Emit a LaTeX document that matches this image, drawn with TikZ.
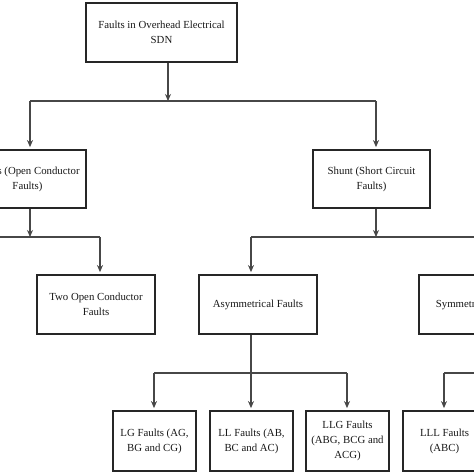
\documentclass[tikz,border=0pt]{standalone}
\usepackage{fontspec}
\setmainfont{Liberation Serif}
\usetikzlibrary{arrows.meta,calc}
\begin{document}
\begin{tikzpicture}[x=1pt,y=-1pt,
  box/.style={draw=black!85, line width=1.8pt, rectangle, inner sep=0pt, align=center,
    font=\fontsize{10.8}{15}\selectfont, text=black!90},
  conn/.style={draw=black!72, line width=1.6pt},
  arrj/.style={conn, -{Stealth[length=7pt,width=6pt]}},
  arr/.style={arrj, shorten >=2pt}]
\clip (0,0) rectangle (474,474);
\fill[white] (0,0) rectangle (474,474);
% nodes
\node[box, minimum width=151pt, minimum height=59pt] (root) at (161.5,32.5) {Faults in Overhead Electrical\\SDN};
\node[box, minimum width=117pt, minimum height=58pt] (series) at (27.5,179) {Series (Open Conductor\\Faults)};
\node[box, minimum width=117pt, minimum height=58pt] (shunt) at (371.5,179) {Shunt (Short Circuit\\Faults)};
\node[box, minimum width=118pt, minimum height=59pt] (twoopen) at (96,304.5) {Two Open Conductor\\Faults};
\node[box, minimum width=118pt, minimum height=59pt] (asym) at (258,304.5) {Asymmetrical Faults};
\node[box, minimum width=118pt, minimum height=59pt] (sym) at (478,304.5) {Symmetrical Faults};
\node[box, minimum width=83pt, minimum height=60pt] (lg) at (154.5,441) {LG Faults (AG,\\BG and CG)};
\node[box, minimum width=83pt, minimum height=60pt] (ll) at (251.5,441) {LL Faults (AB,\\BC and AC)};
\node[box, minimum width=83pt, minimum height=60pt] (llg) at (347.5,441) {LLG Faults\\(ABG, BCG and\\ACG)};
\node[box, minimum width=83pt, minimum height=60pt] (lll) at (444.5,441) {LLL Faults\\(ABC)};
% level 1
\coordinate (j1) at (168,101);
\coordinate (h1l) at (30,101);
\coordinate (h1r) at (376,101);
\draw[arrj] (root.south -| j1) -- (j1);
\draw[conn] (h1l) -- (h1r);
\draw[arr] (h1l) -- (h1l |- series.north);
\draw[arr] (h1r) -- (h1r |- shunt.north);
% series branch
\coordinate (j2) at (30,237);
\coordinate (h2l) at (-20,237);
\coordinate (h2r) at (100,237);
\draw[arrj] (series.south -| j2) -- (j2);
\draw[conn] (h2l) -- (h2r);
\draw[arr] (h2r) -- (h2r |- twoopen.north);
% shunt branch
\coordinate (j3) at (376,237);
\coordinate (h3l) at (251,237);
\coordinate (h3r) at (482,237);
\draw[arrj] (shunt.south -| j3) -- (j3);
\draw[conn] (h3l) -- (h3r);
\draw[arr] (h3l) -- (h3l |- asym.north);
\draw[arr] (h3r) -- (h3r |- sym.north);
% asymmetrical branch
\coordinate (j4) at (251,373);
\coordinate (h4l) at (154,373);
\coordinate (h4r) at (347,373);
\draw[conn] (asym.south -| j4) -- (j4);
\draw[conn] (h4l) -- (h4r);
\draw[arr] (h4l) -- (h4l |- lg.north);
\draw[arr] (j4) -- (j4 |- ll.north);
\draw[arr] (h4r) -- (h4r |- llg.north);
% symmetrical branch
\coordinate (j5) at (482,373);
\coordinate (h5l) at (444,373);
\coordinate (h5r) at (520,373);
\draw[conn] (sym.south -| j5) -- (j5);
\draw[conn] (h5l) -- (h5r);
\draw[arr] (h5l) -- (h5l |- lll.north);
\end{tikzpicture}
\end{document}
